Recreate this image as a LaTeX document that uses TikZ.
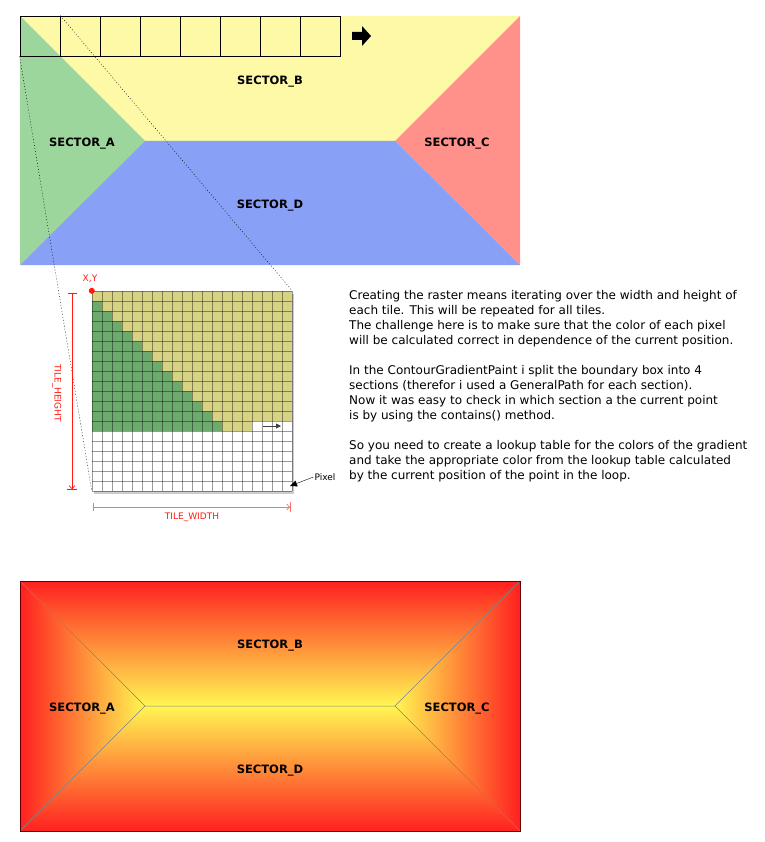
\documentclass[tikz,border=0pt]{standalone}
\usepackage{fontspec}
\setmainfont{DejaVu Sans}
\usetikzlibrary{arrows.meta,shadows}

\definecolor{sectA}{HTML}{9DD69D}
\definecolor{sectB}{HTML}{FDF9A6}
\definecolor{sectC}{HTML}{FF918A}
\definecolor{sectD}{HTML}{88A0F6}
\definecolor{pixOlive}{HTML}{D6D384}
\definecolor{pixGreen}{HTML}{6DAA6D}
\definecolor{gradRed}{HTML}{FF2020}
\definecolor{gradYellow}{HTML}{FFF652}
\definecolor{dimRed}{HTML}{FF1A10}
\definecolor{dimSalmon}{HTML}{F67468}

\tikzset{
  sectlabel/.style={font=\fontsize{11.5}{13}\selectfont\bfseries},
  tilebox/.style={draw=black, line width=0.8pt, minimum size=40pt, inner sep=0pt},
  dimlabel/.style={text=dimRed, font=\fontsize{9}{10}\selectfont, inner sep=1pt},
  gridline/.style={black, opacity=0.4, line width=0.6pt},
  seam/.style={gray, line width=0.5pt}
}

\begin{document}
\begin{tikzpicture}[x=1pt, y=-1pt]
    \useasboundingbox (0,0) rectangle (764,842);

    % sectors of the boundary box
    \fill[sectB] (20,16) rectangle (520,265);
    \fill[sectA] (20,16) -- (145,141) -- (20,265) -- cycle;
    \fill[sectC] (520,16) -- (395,141) -- (520,265) -- cycle;
    \fill[sectD] (145,141) -- (395,141) -- (520,265) -- (20,265) -- cycle;
    \node[sectlabel] (secA) at (82,144) {SECTOR\_A};
    \node[sectlabel] (secB) at (270,82) {SECTOR\_B};
    \node[sectlabel] (secC) at (457,144) {SECTOR\_C};
    \node[sectlabel] (secD) at (270,206) {SECTOR\_D};

    % tiles
    \foreach \i in {1,...,8}
        \node[tilebox] (tile\i) at ({\i*40},36) {};
    \fill (352,32) -- (362,32) -- (362,26) -- (371,36) -- (362,46) -- (362,40) -- (352,40) -- cycle;

    % zoomed tile
    \node[minimum size=200pt, inner sep=0pt, fill=white,
          drop shadow={shadow xshift=2pt, shadow yshift=-3pt, opacity=0.4}] (raster) at (192,391) {};
    \fill[pixOlive] (92,291) rectangle (292,421);
    \fill[pixOlive] (92,421) rectangle (252,431);
    \foreach \r in {1,...,13}
        \fill[pixGreen] (92,{291+10*\r}) rectangle ({92+10*\r},{301+10*\r});
    \foreach \k in {0,...,20} {
        \draw[gridline] ({92+10*\k},291) -- ({92+10*\k},491);
        \draw[gridline] (92,{291+10*\k}) -- (292,{291+10*\k});
    }
    \draw[dash pattern=on 1pt off 2pt] (tile1.south west) -- (raster.south west);
    \draw[dash pattern=on 1pt off 2pt] (tile1.north east) -- (raster.north east);

    \coordinate (origin) at (raster.north west);
    \fill[dimRed] (origin) circle (3);
    \node[dimlabel] (xyLabel) at (90,279) {X,Y};

    \coordinate (scanStart) at (263,426);
    \coordinate (scanEnd) at (281,426);
    \draw[gray!50!black, line width=0.8pt, -{Triangle[length=5pt,width=5pt]}] (scanStart) -- (scanEnd);

    \node[font=\fontsize{9}{10}\selectfont, inner sep=1pt] (pixel) at (325,477) {Pixel};
    \coordinate (pixTip) at (290,486);
    \draw[-{Triangle[length=7pt,width=6pt]}] (pixel.west) -- (pixTip);

    % tile height and width
    \coordinate (hTop) at (72,293);
    \coordinate (hBot) at (72,490);
    \draw[dimRed, line width=0.8pt, {Bar[width=9pt]}-{Straight Barb[length=3pt,width=6pt] Bar[width=10pt]}] (hTop) -- (hBot);
    \node[dimlabel, rotate=-90] (hLabel) at (57,393) {TILE\_HEIGHT};
    \coordinate (wLeft) at (93,507);
    \coordinate (wRight) at (291,507);
    \draw[dimSalmon, line width=0.8pt, {Bar[width=8pt]}-{Straight Barb[length=3pt,width=6pt] Bar[width=10pt]}] (wLeft) -- (wRight)
        node [midway, below=5pt, dimlabel] (wLabel) {TILE\_WIDTH};

    % explanation
    \node[anchor=north west, inner sep=0pt, align=left, font=\fontsize{12}{15}\selectfont] (notes) at (349,290) {%
        Creating the raster means iterating over the width and height of\\
        each tile. This will be repeated for all tiles.\\
        The challenge here is to make sure that the color of each pixel\\
        will be calculated correct in dependence of the current position.\\[15pt]
        In the ContourGradientPaint i split the boundary box into 4\\
        sections (therefor i used a GeneralPath for each section).\\
        Now it was easy to check in which section a the current point\\
        is by using the contains() method.\\[15pt]
        So you need to create a lookup table for the colors of the gradient\\
        and take the appropriate color from the lookup table calculated\\
        by the current position of the point in the loop.};

    % resulting gradient
    \coordinate (jL) at (145,706);
    \coordinate (jR) at (395,706);
    \begin{scope}
        \clip (20,581) -- (520,581) -- (jR) -- (jL) -- cycle;
        \shade[top color=gradRed, bottom color=gradYellow] (20,581) rectangle (520,706);
    \end{scope}
    \begin{scope}
        \clip (20,831) -- (520,831) -- (jR) -- (jL) -- cycle;
        \shade[top color=gradYellow, bottom color=gradRed] (20,706) rectangle (520,831);
    \end{scope}
    \begin{scope}
        \clip (20,581) -- (jL) -- (20,831) -- cycle;
        \shade[left color=gradRed, right color=gradYellow] (20,581) rectangle (145,831);
    \end{scope}
    \begin{scope}
        \clip (520,581) -- (jR) -- (520,831) -- cycle;
        \shade[left color=gradYellow, right color=gradRed] (395,581) rectangle (520,831);
    \end{scope}
    \draw[seam] (20,581) -- (jL) -- (jR) -- (520,581);
    \draw[seam] (20,831) -- (jL);
    \draw[seam] (jR) -- (520,831);
    \draw[red!40!black, line width=0.8pt] (20,581) rectangle (520,831);
    \node[sectlabel] (gradA) at (82,709) {SECTOR\_A};
    \node[sectlabel] (gradB) at (270,646) {SECTOR\_B};
    \node[sectlabel] (gradC) at (457,709) {SECTOR\_C};
    \node[sectlabel] (gradD) at (270,771) {SECTOR\_D};
\end{tikzpicture}
\end{document}
